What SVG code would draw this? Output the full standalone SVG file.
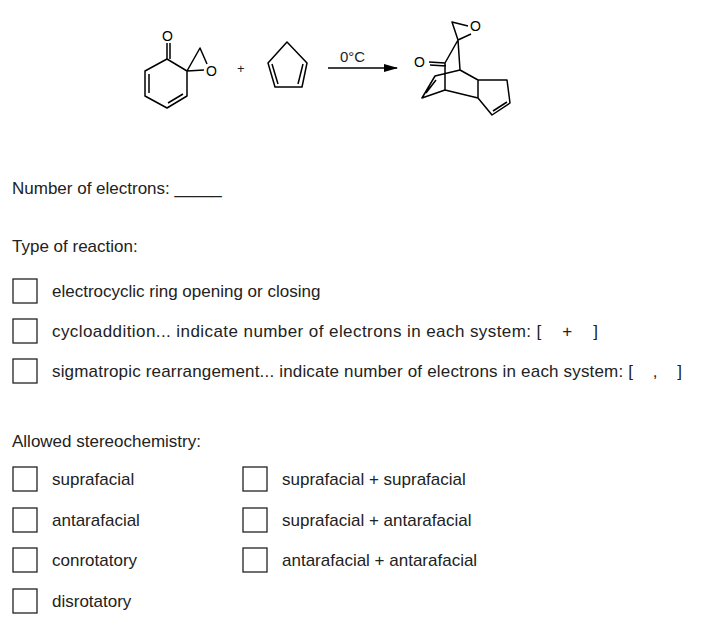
<svg xmlns="http://www.w3.org/2000/svg" width="717" height="617" viewBox="0 0 717 617">
<style>
text{font-family:"Liberation Sans",Arial,sans-serif;font-size:17px;fill:#222;white-space:pre}
.b{fill:none;stroke:#000;stroke-width:1.5;stroke-linejoin:round}
.c{fill:#fff;stroke:#222;stroke-width:1.3}
.a{font-size:14px;fill:#000}
</style>
<defs><marker id="ar" markerWidth="14" markerHeight="8" refX="13" refY="4" orient="auto" markerUnits="userSpaceOnUse"><path d="M0,0L14,4L0,8z"/></marker></defs>
<rect width="717" height="617" fill="#fff"/>
<g id="reactant1">
<path class="b" d="M167,59L145,71L145,96L167,108L187,96L187,71Z M167,59V43 M170,59V43 M149,74V93 M168,103L183,94 M187,71L200,48L207,64 M187,71L204,70"/>
<text class="a" x="162" y="41">O</text><text class="a" x="206" y="76">O</text>
</g>
<text x="237" y="73" style="font-size:13px">+</text>
<g id="cyclopentadiene">
<path class="b" d="M287,42L268,63L275,87H302L307,63Z M272,64L278,84 M303,64L298,84"/>
</g>
<g id="arrow">
<line class="b" x1="328" y1="68" x2="397" y2="68" marker-end="url(#ar)"/>
<text x="340" y="62" style="font-size:15px">0°C</text>
</g>
<g id="product">
<path class="b" d="M452,22L458,40L452,22L468,26 M458,40L471,34 M458,40L445,63L445,90 M458,40L460,70 M445,63L429,62 M446,66L430,65 M460,70L435,76L422,98L445,90 M426,93L436,80 M460,70L478,80L478,98L445,90 M478,80H507L510,103L492,115L478,98 M507,102L493,111"/>
<text class="a" x="414" y="67">O</text><text class="a" x="470" y="31">O</text>
</g>
<g id="form">
<text x="12" y="194">Number of electrons: _____</text>
<text x="12" y="252">Type of reaction:</text>
<rect class="c" x="13" y="279" width="24" height="24"/><text x="52" y="297">electrocyclic ring opening or closing</text>
<rect class="c" x="13" y="319" width="24" height="24"/><text x="52" y="337" textLength="546">cycloaddition... indicate number of electrons in each system: [    +    ]</text>
<rect class="c" x="13" y="359" width="24" height="24"/><text x="52" y="377" textLength="630">sigmatropic rearrangement... indicate number of electrons in each system: [    ,    ]</text>
<text x="12" y="447">Allowed stereochemistry:</text>
<rect class="c" x="13" y="467" width="24" height="24"/><text x="52" y="485">suprafacial</text>
<rect class="c" x="13" y="508" width="24" height="24"/><text x="52" y="526">antarafacial</text>
<rect class="c" x="13" y="548" width="24" height="24"/><text x="52" y="566">conrotatory</text>
<rect class="c" x="13" y="589" width="24" height="24"/><text x="52" y="607">disrotatory</text>
<rect class="c" x="243" y="467" width="24" height="24"/><text x="282" y="485">suprafacial + suprafacial</text>
<rect class="c" x="243" y="508" width="24" height="24"/><text x="282" y="526">suprafacial + antarafacial</text>
<rect class="c" x="243" y="548" width="24" height="24"/><text x="282" y="566">antarafacial + antarafacial</text>
</g>
</svg>
